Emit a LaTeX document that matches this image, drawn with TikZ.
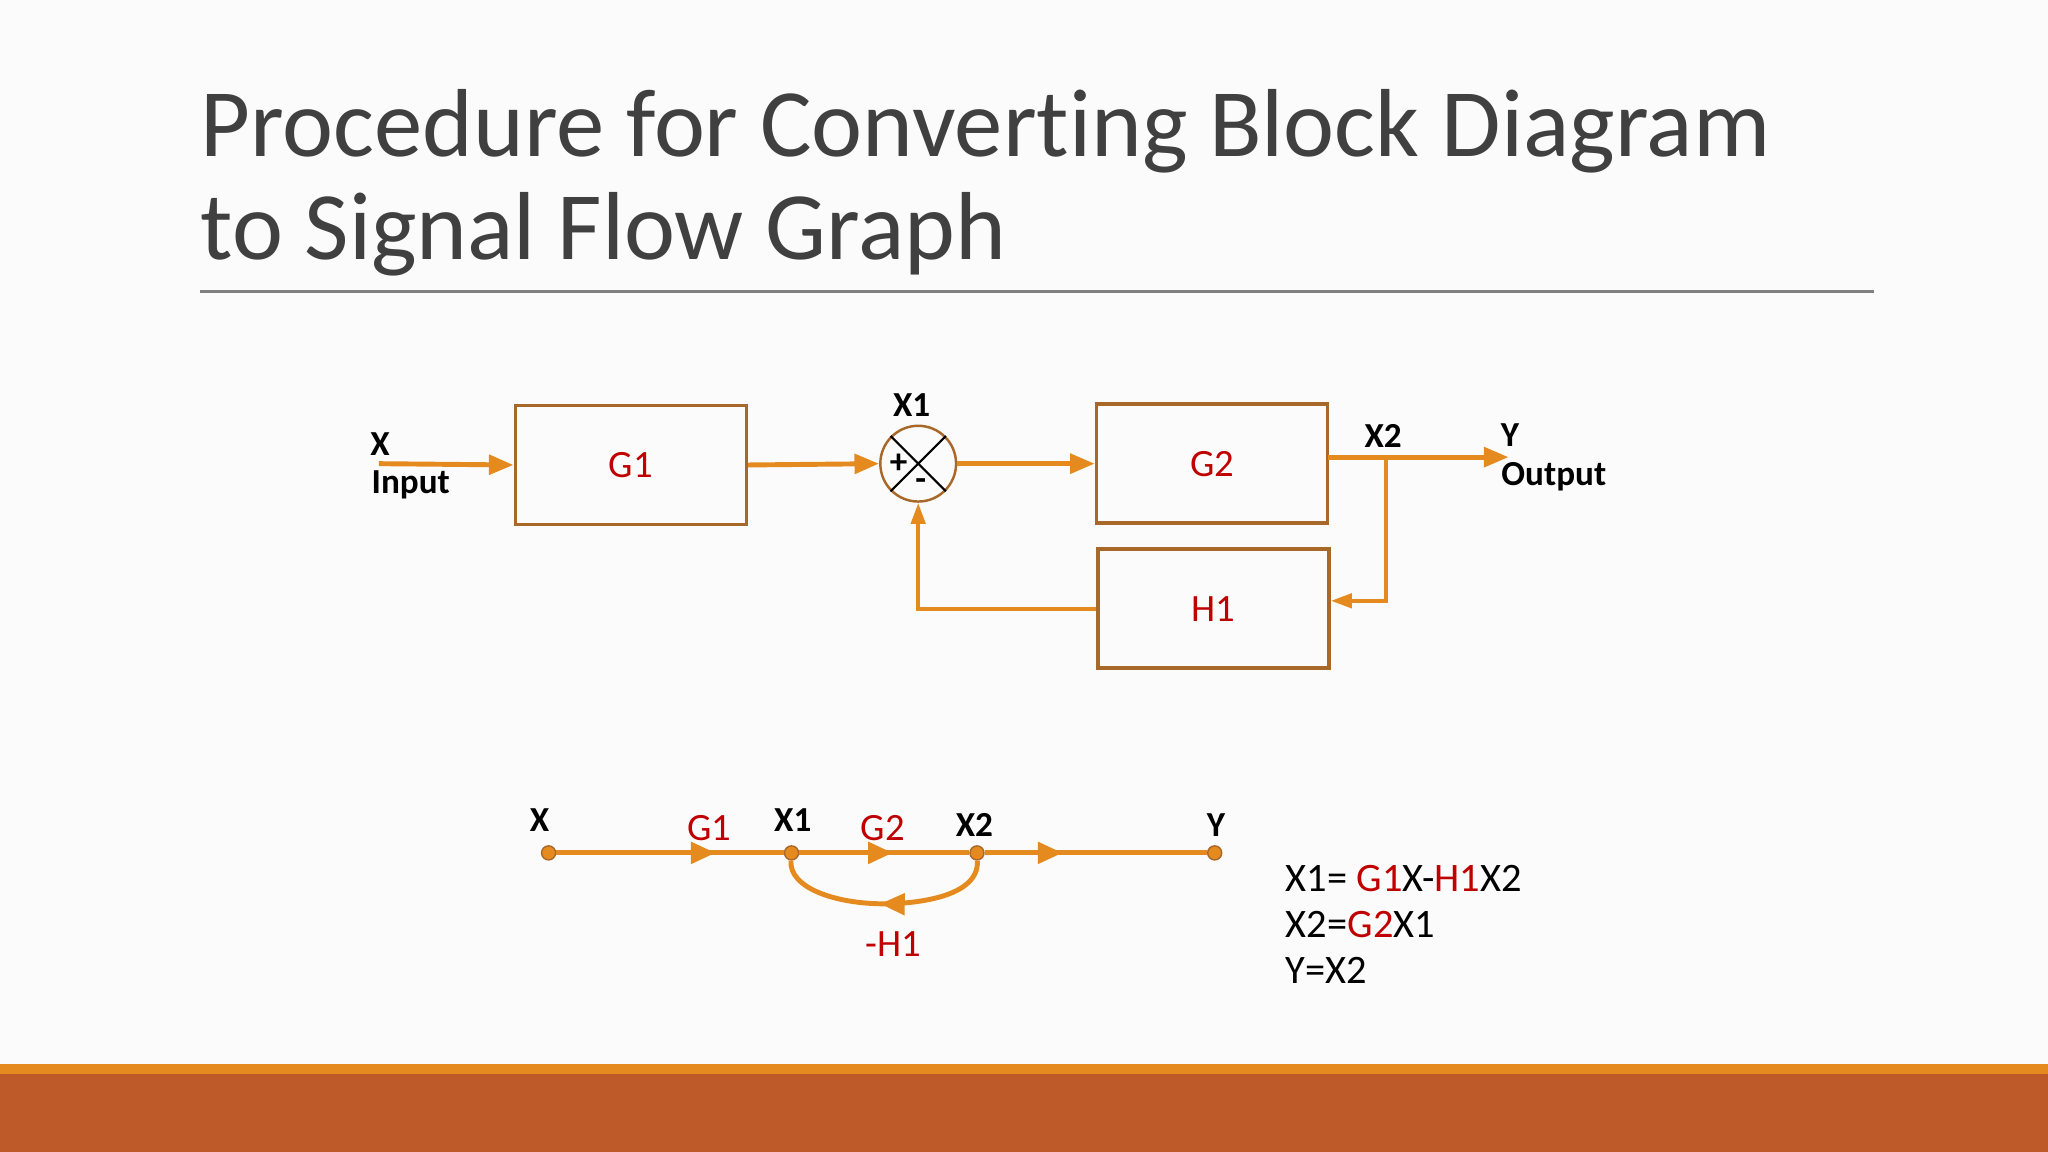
\documentclass[tikz,border=0pt]{standalone}
\usepackage{fontspec}
\setmainfont[Ligatures=NoCommon]{Carlito}
\usetikzlibrary{arrows.meta,decorations.markings}
\definecolor{og}{HTML}{E58A1F}
\definecolor{bx}{HTML}{A8682A}
\definecolor{rd}{HTML}{C00000}
\definecolor{tt}{HTML}{404040}
\definecolor{bar}{HTML}{BE5A2A}
\begin{document}
\begin{tikzpicture}[x=0.013061cm,y=-0.013061cm,
  blk/.style={draw=bx,line width=1pt,minimum width=177*0.013061cm,minimum height=91*0.013061cm,text=rd,font=\fontsize{11}{13}\selectfont},
  con/.style={draw=og,line width=1.4pt},
  arr/.style={con,-{Triangle[length=7pt,width=5.5pt]}},
  lb/.style={font=\bfseries\fontsize{10}{12}\selectfont,text=black,inner sep=0pt},
  rl/.style={font=\fontsize{11}{13}\selectfont,text=rd,inner sep=0pt},
  mid/.style={postaction={decorate},decoration={markings,mark=at position #1 with {\arrow{Triangle[length=7pt,width=6pt]}}}},
  dot/.style={circle,fill=og,draw=bx,inner sep=0pt,minimum size=4pt}]
\useasboundingbox (0,0) rectangle (1568,882);
\fill[white!97!gray] (0,0) rectangle (1568,882);
\fill[og] (0,815) rectangle (1568,823);
\fill[bar] (0,822) rectangle (1568,882);
\node[anchor=base west,text=tt,font=\fontsize{27.5}{30}\selectfont,inner sep=0pt] (t1) at (153,120) {Procedure for Converting Block Diagram};
\node[anchor=base west,text=tt,font=\fontsize{27.5}{30}\selectfont,inner sep=0pt] (t2) at (153,199) {to Signal Flow Graph};
\draw[gray,line width=0.8pt] (153,223) -- (1435,223);
% block diagram
\node[blk] (g1) at (483,356) {G1};
\node[blk] (g2) at (928,355) {G2};
\node[blk] (h1) at (929,466) {H1};
\node[draw=bx,circle,minimum size=58*0.013061cm,inner sep=0pt,line width=0.7pt] (s) at (703,355) {};
\draw[line width=0.6pt] (s.north west) -- (s.south east) (s.north east) -- (s.south west);
\node[font=\bfseries\fontsize{10}{10}\selectfont,inner sep=0pt] (pl) at (688,355) {+};
\node[font=\bfseries\fontsize{10}{10}\selectfont,inner sep=0pt] (mi) at (705,371) {-};
\coordinate (in) at (290,355);
\draw[arr] (in) -- (g1.west);
\draw[arr] (g1.east) -- (s.west);
\draw[arr] (s.east) -- (g2.west);
\coordinate (out) at (1155,350);
\coordinate (br) at (1061,350);
\draw[arr] (1017,350) -- (out);
\draw[con,line width=1.2pt,-{Triangle[length=6pt,width=4pt]}] (br) |- (h1.east|-0,460);
\draw[con,line width=1.2pt,-{Triangle[length=6pt,width=4pt]}] (h1.west) -| (s.south);
\node[lb] (x1b) at (698,310) {X1};
\node[lb] (xb) at (291,340) {X};
\node[lb,anchor=west] (inp) at (284,371) {Input};
\node[lb] (x2b) at (1059,334) {X2};
\node[lb] (yb) at (1156,333) {Y};
\node[lb,anchor=west] (outp) at (1149,365) {Output};
% signal flow graph
\node[dot] (nx) at (420,653) {};
\node[dot] (n1) at (606,653) {};
\node[dot] (n2) at (748,653) {};
\node[dot] (ny) at (930,653) {};
\draw[con,mid=0.7] (nx) -- (n1);
\draw[con,mid=0.55] (n1) -- (n2);
\draw[con,mid=0.35] (n2) -- (ny);
\draw[con,mid=0.52] (n2) .. controls (750,690) and (690,692) .. (677,692) .. controls (640,692) and (604,680) .. (n1);
\node[lb] (lx) at (413,628) {X};
\node[rl] (lg1) at (543,634) {G1};
\node[lb] (l1) at (607,628) {X1};
\node[rl] (lg2) at (676,634) {G2};
\node[lb] (l2) at (746,632) {X2};
\node[lb] (ly) at (931,632) {Y};
\node[rl] (lh) at (684,723) {-H1};
\begin{scope}[every node/.style={anchor=west,inner sep=0pt,font=\fontsize{11.5}{14}\selectfont}]
\node (e1) at (984,673) {X1= \textcolor{rd}{G1}X-\textcolor{rd}{H1}X2};
\node (e2) at (984,708) {X2=\textcolor{rd}{G2}X1};
\node (e3) at (984,743) {Y=X2};
\end{scope}
\end{tikzpicture}
\end{document}
